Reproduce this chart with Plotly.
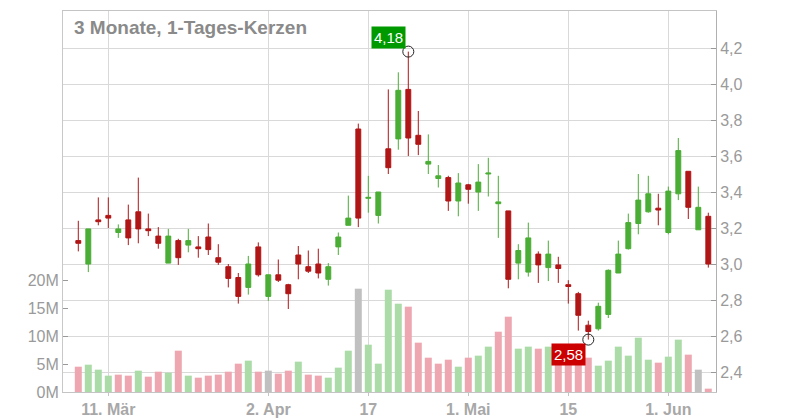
import plotly.graph_objects as go

# ---- data (trading-day index based) ----
opens  = [3.13, 3.00, 3.245, 3.27, 3.175, 3.245, 3.29, 3.195, 3.155, 3.005,
          3.13, 3.105, 3.095, 3.15, 3.035, 2.985, 2.925, 2.87, 3.095, 2.82,
          2.94, 2.885, 3.05, 2.985, 3.00, 2.915, 3.095, 3.215, 3.75, 3.365,
          3.27, 3.64, 3.695, 3.97, 3.715, 3.555, 3.475, 3.48, 3.35, 3.44,
          3.40, 3.50, 3.335, 3.295, 3.005, 2.955, 3.055, 2.98, 2.995, 2.885,
          2.835, 2.66, 2.64, 2.72, 2.95, 3.085, 3.225, 3.29, 3.31, 3.175,
          3.39, 3.515, 3.19, 3.265]
highs  = [3.24, 3.195, 3.37, 3.37, 3.22, 3.33, 3.48, 3.28, 3.205, 3.195,
          3.14, 3.195, 3.155, 3.225, 3.11, 3.00, 2.95, 3.045, 3.12, 2.94,
          3.025, 2.89, 3.10, 3.075, 3.085, 3.005, 3.175, 3.38, 3.78, 3.49,
          3.40, 3.97, 4.065, 4.18, 3.85, 3.72, 3.55, 3.49, 3.505, 3.445,
          3.555, 3.59, 3.49, 3.295, 3.11, 3.23, 3.07, 3.13, 3.04, 2.91,
          2.845, 2.685, 2.785, 2.97, 3.13, 3.28, 3.50, 3.49, 3.39, 3.43,
          3.70, 3.515, 3.43, 3.285]
lows   = [3.07, 2.955, 3.215, 3.20, 3.145, 3.105, 3.115, 3.155, 3.085, 3.005,
          2.995, 3.065, 3.035, 3.05, 2.995, 2.87, 2.78, 2.83, 2.93, 2.795,
          2.90, 2.75, 2.915, 2.95, 2.92, 2.88, 3.05, 3.215, 3.205, 3.285,
          3.225, 3.50, 3.635, 3.60, 3.605, 3.50, 3.425, 3.295, 3.265, 3.335,
          3.295, 3.375, 3.145, 2.865, 2.915, 2.93, 2.895, 2.905, 2.895, 2.78,
          2.63, 2.58, 2.63, 2.70, 2.95, 3.08, 3.165, 3.285, 3.215, 3.165,
          3.355, 3.25, 3.19, 2.98]
closes = [3.115, 3.195, 3.235, 3.255, 3.195, 3.145, 3.195, 3.185, 3.115, 3.155,
          3.035, 3.13, 3.085, 3.08, 3.01, 2.92, 2.82, 3.00, 2.94, 2.94,
          2.91, 2.835, 3.00, 2.96, 2.95, 2.985, 3.15, 3.255, 3.255, 3.37,
          3.40, 3.535, 3.965, 3.70, 3.665, 3.57, 3.49, 3.35, 3.45, 3.415,
          3.455, 3.505, 3.345, 2.915, 3.075, 3.145, 2.995, 3.055, 2.975, 2.875,
          2.715, 2.625, 2.765, 2.965, 3.055, 3.23, 3.355, 3.39, 3.30, 3.405,
          3.63, 3.315, 3.315, 3.00]
volumes_m = [4.52, 4.88, 3.99, 2.92, 3.10, 2.92, 3.81, 2.74, 3.63, 3.45,
             7.38, 2.92, 2.56, 2.92, 3.10, 3.63, 5.06, 5.60, 3.63, 3.81,
             3.27, 3.81, 5.42, 3.10, 2.92, 2.56, 4.35, 7.38, 18.45, 8.45,
             5.06, 18.27, 15.77, 15.24, 8.81, 6.13, 5.06, 5.77, 4.52, 6.13,
             6.49, 8.10, 10.77, 13.45, 7.74, 8.10, 7.74, 8.10, 6.80, 7.00,
             8.63, 6.13, 4.70, 5.60, 8.10, 6.49, 9.70, 5.77, 5.24, 6.31,
             9.35, 6.67, 3.99, 0.60]

tick_idx = [3, 19, 29, 39, 49, 59]
tick_text = ["11. Mär", "2. Apr", "17", "1. Mai", "15", "1. Jun"]
price_ticks = [2.4, 2.6, 2.8, 3.0, 3.2, 3.4, 3.6, 3.8, 4.0, 4.2]
vol_ticks = [0, 5, 10, 15, 20]
vol_tick_text = ["0M", "5M", "10M", "15M", "20M"]

high_idx, high_val, high_label = 33, 4.18, "4,18"
low_idx, low_val, low_label = 51, 2.58, "2,58"
title = "3 Monate, 1-Tages-Kerzen"

# ---- styling ----
GREEN = "#4aad35"
RED = "#b01616"
VOL_UP = "#abdca8"
VOL_DN = "#eea7b0"
VOL_EQ = "#c0c0c0"
GRID = "#d9d9d9"
FONT = "Liberation Sans, Arial, sans-serif"

n = len(closes)
x = list(range(n))

vol_colors = []
for i in range(n):
    if i == 0:
        c = VOL_UP if closes[0] > opens[0] else VOL_DN
    elif closes[i] > closes[i - 1] + 1e-9:
        c = VOL_UP
    elif closes[i] < closes[i - 1] - 1e-9:
        c = VOL_DN
    else:
        c = VOL_EQ
    vol_colors.append(c)

fig = go.Figure()
fig.add_trace(go.Bar(x=x, y=volumes_m, marker=dict(color=vol_colors, line=dict(width=0)),
                     width=0.7, yaxis="y", hoverinfo="skip", showlegend=False))
fig.add_trace(go.Candlestick(
    x=x, open=opens, high=highs, low=lows, close=closes, yaxis="y2",
    increasing=dict(line=dict(color=GREEN, width=1), fillcolor=GREEN),
    decreasing=dict(line=dict(color=RED, width=1), fillcolor=RED),
    whiskerwidth=0, hoverinfo="skip", showlegend=False))
fig.add_trace(go.Scatter(
    x=[high_idx, low_idx], y=[high_val, low_val], yaxis="y2", mode="markers",
    marker=dict(symbol="circle-open", size=11, color="#222222", line=dict(width=1, color="#222222")),
    hoverinfo="skip", showlegend=False))

fig.add_annotation(x=high_idx, y=high_val, xref="x", yref="y2", text=high_label,
                   showarrow=False, xshift=-20, yshift=14, bgcolor="#009a00",
                   font=dict(family=FONT, size=15, color="white"), borderpad=2)
fig.add_annotation(x=low_idx, y=low_val, xref="x", yref="y2", text=low_label,
                   showarrow=False, xshift=-20, yshift=-15, bgcolor="#cc0000",
                   font=dict(family=FONT, size=15, color="white"), borderpad=2)
fig.add_annotation(x=(72 - 63) / 653, y=(392 - 28) / 381, xref="paper", yref="paper",
                   text=title, showarrow=False, xanchor="left", yanchor="middle",
                   font=dict(family=FONT, size=19, color="#8a8a8a", weight="bold"))

fig.update_layout(
    width=800, height=420,
    margin=dict(l=63, r=84, t=11, b=28, autoexpand=False),
    paper_bgcolor="white", plot_bgcolor="white",
    separators=",.",
    bargap=0.3,
    font=dict(family=FONT),
    xaxis=dict(range=[-1.53, 63.77], tickmode="array", tickvals=tick_idx, ticktext=tick_text,
               showgrid=True, gridcolor=GRID, gridwidth=1, zeroline=False,
               showline=True, linecolor="#c4c4c4", mirror=True,
               ticks="outside", ticklen=3, tickcolor="#c4c4c4", automargin=False,
               tickfont=dict(family=FONT, size=16, color="#a8a8a8", weight="bold"),
               rangeslider=dict(visible=False), fixedrange=True),
    yaxis=dict(range=[0, 381 / 28 * 5], tickmode="array", tickvals=vol_ticks, ticktext=vol_tick_text,
               showgrid=False, zeroline=False, side="left", automargin=False,
               showline=True, linecolor="#c8c8c8",
               ticks="inside", ticklen=5, tickcolor="#999999",
               tickfont=dict(family=FONT, size=16, color="#9a9a9a")),
    yaxis2=dict(range=[4.2 - 344 / 180, 4.2 + 37 / 180], overlaying="y", side="right",
                tickmode="array", tickvals=price_ticks, tickformat=".1f", automargin=False,
                showgrid=True, gridcolor=GRID, gridwidth=1, zeroline=False,
                showline=True, linecolor="#b0b0b0",
                ticks="inside", ticklen=5, tickcolor="#999999",
                tickfont=dict(family=FONT, size=16, color="#9a9a9a")),
)

fig.write_html("out.html")
